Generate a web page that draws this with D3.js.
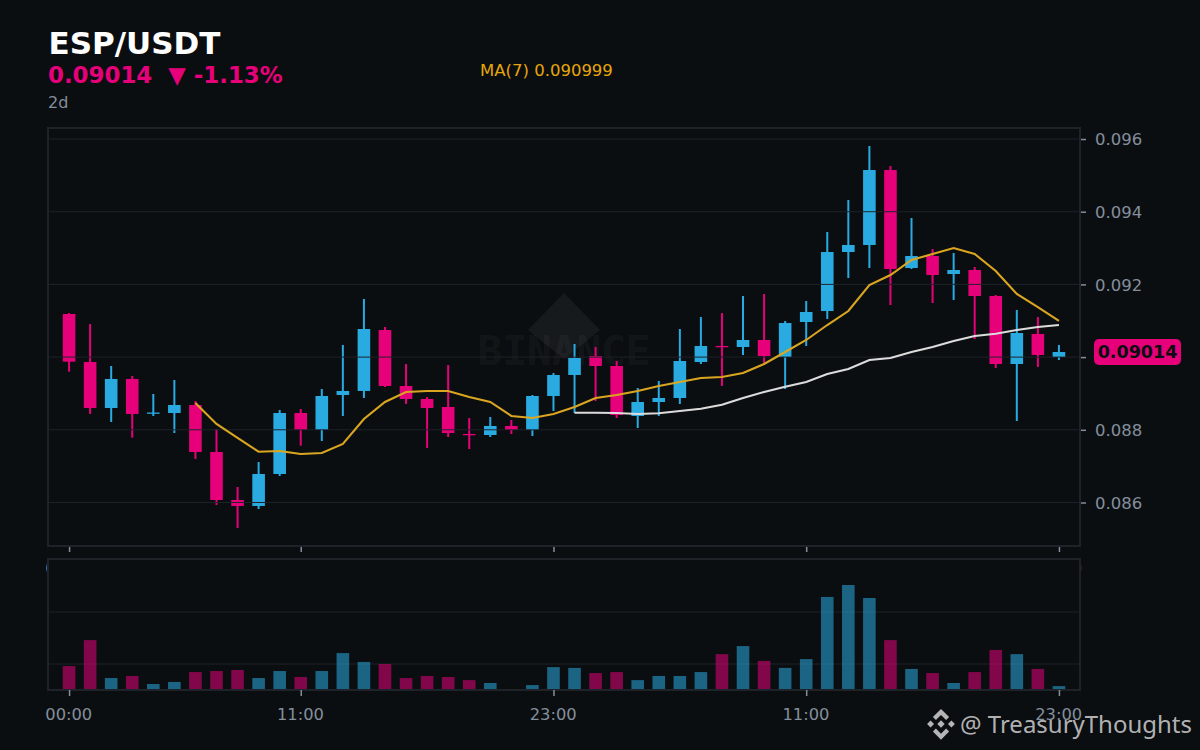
<!DOCTYPE html>
<html>
<head>
<meta charset="utf-8">
<script src="https://cdn.jsdelivr.net/npm/d3@7/dist/d3.min.js"></script>
<style>
html,body{margin:0;padding:0;background:#0B0E11;}
svg{display:block;font-family:"DejaVu Sans",sans-serif;}
</style>
</head>
<body>
<svg id="c" width="1200" height="750"></svg>
<script>
const title = "ESP/USDT";
const subtitle = "0.09014  \u25BC -1.13%";
const timeframe = "2d";
const maLabel = "MA(7) 0.090999";
const lastLabel = "0.09014";
const credit = "@ TreasuryThoughts";
const watermark = "BINANCE";

const opens  = [.091186,.089865,.088600,.089398,.088440,.088462,.088682,.087389,.086069,.085904,.086784,.088462,.087995,.088958,.089068,.090746,.089205,.088848,.088627,.087885,.087857,.088105,.087995,.088930,.089508,.090030,.089755,.088380,.088765,.088875,.089865,.090306,.090278,.090471,.090003,.090966,.091268,.092891,.093084,.095147,.092451,.092781,.092286,.092396,.091681,.089810,.090636,.090003];
const highs  = [.091213,.090911,.089755,.089480,.088985,.089370,.088792,.088022,.086427,.087114,.088545,.088572,.089123,.090333,.091599,.090828,.089810,.088903,.089783,.088325,.088352,.088270,.088958,.089563,.090361,.090278,.089893,.089150,.089343,.090773,.091103,.091213,.091681,.091736,.090993,.091543,.093442,.094322,.095808,.095257,.093827,.092974,.092864,.092479,.091709,.091296,.091103,.090333];
const lows   = [.089598,.088435,.088215,.087783,.088380,.087912,.087197,.085931,.085299,.085821,.086729,.087563,.087692,.088380,.088875,.089178,.088710,.087500,.087802,.087472,.087802,.087885,.087830,.088517,.088462,.088792,.088325,.088050,.088380,.088710,.089810,.089205,.090058,.089838,.089123,.090306,.091048,.092176,.092451,.091433,.092424,.091488,.091571,.090498,.089700,.088242,.089728,.089920];
const closes = [.089874,.088600,.089398,.088435,.088476,.088682,.087389,.086069,.085904,.086784,.088462,.087995,.088930,.089068,.090773,.089205,.088848,.088600,.087912,.087857,.088105,.087995,.088930,.089508,.089975,.089755,.088407,.088765,.088875,.089893,.090306,.090278,.090471,.090030,.090938,.091241,.092891,.093084,.095147,.092424,.092781,.092259,.092396,.091681,.089810,.090663,.090058,.090140];
const upFlags = [0,0,1,0,1,1,0,0,0,1,1,0,1,1,1,0,0,0,0,0,1,0,1,1,1,0,0,1,1,1,1,0,1,0,1,1,1,1,1,0,1,0,1,0,0,1,0,1];
const volumes = [.92,1.92,.46,.54,.23,.31,.69,.73,.77,.46,.73,.50,.73,1.42,1.08,1.00,.46,.54,.50,.38,.27,.04,.19,.88,.85,.65,.69,.38,.54,.54,.69,1.38,1.69,1.12,.85,1.19,3.58,4.04,3.54,1.92,.81,.65,.27,.69,1.54,1.38,.81,.15];
const ma7Start = 6;
const ma7 = [.088737,.088160,.087775,.087397,.087417,.087334,.087362,.087610,.088297,.088765,.089040,.089068,.089068,.088903,.088765,.088380,.088325,.088435,.088627,.088875,.088958,.089068,.089205,.089315,.089425,.089453,.089563,.089810,.090140,.090471,.090883,.091268,.091984,.092259,.092671,.092836,.093002,.092836,.092369,.091736,.091378,.090999];
const ma25Start = 24;
const ma25 = [.088471,.088471,.088462,.088435,.088455,.088517,.088580,.088691,.088875,.089040,.089186,.089315,.089535,.089673,.089920,.089975,.090140,.090278,.090443,.090581,.090644,.090746,.090828,.090883];
const priceTicks = [.086,.088,.090,.092,.094,.096];
const hiddenPriceLabel = .090;
const volumeTicks = [1,3];
const timeTickIdx = [0,11,23,35,47];
const timeTickLabels = ["00:00","11:00","23:00","11:00","23:00"];
const lastPrice = .09014;

const BG="#0B0E11", GRID="#1E2329", PINK="#E6007A", BLUE="#29ABE2", GOLD="#DAA520", WHITE="#DCDCDC", TICK="#848E9C";
const L=48,R=1080,T1=128,B1=546,T2=559,B2=690;

const svg=d3.select("#c");
svg.append("rect").attr("width",1200).attr("height",750).attr("fill",BG);

const x=d3.scaleLinear().domain([-1,48]).range([L,R]);
const y=d3.scaleLinear().domain([.084803,.096303]).range([B1,T1]);
const yv=d3.scaleLinear().domain([0,5.04]).range([B2,T2]);
const bw=12.6;

// watermark
const wm=svg.append("g");
wm.append("path").attr("d","M564 293L600 330L564 359L528 330Z").attr("fill","rgba(255,255,255,0.05)");
wm.append("text").text(watermark).attr("x",564).attr("y",365).attr("text-anchor","middle")
  .attr("font-family","'DejaVu Sans Mono',monospace").attr("font-weight","bold").attr("font-size",41)
  .attr("fill","rgba(255,255,255,0.05)");

// candles
const idx=d3.range(closes.length);
const col=i=>upFlags[i]?BLUE:PINK;
const cg=svg.append("g");
cg.selectAll(".w").data(idx).join("line").attr("x1",x).attr("x2",x)
  .attr("y1",i=>y(highs[i])).attr("y2",i=>y(lows[i])).attr("stroke",col).attr("stroke-width",2);
cg.selectAll(".b").data(idx).join("rect").attr("x",i=>x(i)-bw/2).attr("width",bw)
  .attr("y",i=>Math.min(y(opens[i]),y(closes[i])))
  .attr("height",i=>Math.max(1.3,Math.abs(y(opens[i])-y(closes[i])))).attr("fill",col);

// main grid (above candles)
svg.append("g").selectAll("line").data(priceTicks).join("line")
  .attr("x1",L).attr("x2",R).attr("y1",d=>y(d)).attr("y2",d=>y(d)).attr("stroke",GRID).attr("stroke-width",1);

// MA lines
const lineOf=start=>d3.line().x((d,i)=>x(i+start)).y(d=>y(d));
svg.append("path").attr("d",lineOf(ma25Start)(ma25)).attr("fill","none").attr("stroke",WHITE).attr("stroke-width",2.1);
svg.append("path").attr("d",lineOf(ma7Start)(ma7)).attr("fill","none").attr("stroke",GOLD).attr("stroke-width",2.1);

function styleAxis(g,size){
  g.select(".domain").remove();
  g.selectAll(".tick line").attr("stroke",TICK).attr("stroke-width",1.5);
  g.selectAll(".tick text").attr("fill",TICK).attr("font-size",size).attr("font-family","'DejaVu Sans',sans-serif");
}
// main axes
const axY=svg.append("g").attr("transform",`translate(${R},0)`)
  .call(d3.axisRight(y).tickValues(priceTicks)
    .tickFormat(d=>d===hiddenPriceLabel?"":d3.format(".3f")(d)).tickSize(6).tickPadding(9));
styleAxis(axY,16.5);
axY.selectAll(".tick text").attr("dy","0.36em");
const axX=svg.append("g").attr("transform",`translate(0,${B1})`)
  .call(d3.axisBottom(x).tickValues(timeTickIdx).tickFormat((d,i)=>timeTickLabels[i]).tickSize(6).tickPadding(10));
styleAxis(axX,16.3);
axX.selectAll(".tick text").attr("dx","-0.8");

// main frame
svg.append("rect").attr("x",L).attr("y",T1).attr("width",R-L).attr("height",B1-T1)
  .attr("fill","none").attr("stroke",GRID).attr("stroke-width",2);

// volume panel covers the upper tick labels
svg.append("rect").attr("x",L).attr("y",T2).attr("width",R-L).attr("height",B2-T2).attr("fill",BG);
svg.append("g").selectAll("line").data(volumeTicks).join("line")
  .attr("x1",L).attr("x2",R).attr("y1",d=>yv(d)).attr("y2",d=>yv(d)).attr("stroke",GRID).attr("stroke-width",1);
svg.append("g").selectAll("rect").data(idx).join("rect")
  .attr("x",i=>x(i)-bw/2).attr("width",bw).attr("y",i=>yv(volumes[i]))
  .attr("height",i=>B2-yv(volumes[i])).attr("fill",col).attr("fill-opacity",.55);
svg.append("rect").attr("x",L).attr("y",T2).attr("width",R-L).attr("height",B2-T2)
  .attr("fill","none").attr("stroke",GRID).attr("stroke-width",2);
const axX2=svg.append("g").attr("transform",`translate(0,${B2})`)
  .call(d3.axisBottom(x).tickValues(timeTickIdx).tickFormat((d,i)=>timeTickLabels[i]).tickSize(6).tickPadding(12));
styleAxis(axX2,16.3);
axX2.selectAll(".tick text").attr("dx","-0.8");

// header
svg.append("text").text(title).attr("x",48.5).attr("y",54).attr("font-size",31).attr("font-weight","bold").attr("fill","#fff");
svg.append("text").text(subtitle).attr("x",48).attr("y",83).attr("font-size",22.9).attr("font-weight","bold").attr("fill",PINK).style("white-space","pre");
svg.append("text").text(timeframe).attr("x",48).attr("y",108).attr("font-size",16).attr("fill",TICK);
svg.append("text").text(maLabel).attr("x",480).attr("y",76).attr("font-size",16.5).attr("fill","#E5A60C");

// last price tag
svg.append("rect").attr("x",1094).attr("y",y(lastPrice)-13).attr("width",87).attr("height",26).attr("rx",5).attr("fill",PINK);
svg.append("text").text(lastLabel).attr("x",1137.5).attr("y",y(lastPrice)+6).attr("text-anchor","middle")
  .attr("font-size",17.5).attr("font-weight","bold").attr("fill","#0B0E11");

// credit
const cr=svg.append("g").attr("fill","#C8C8C8").attr("fill-opacity",.9);
cr.append("path").attr("transform","translate(941,724) scale(1.16) translate(-941,-724)")
 .attr("d","M941 724m-3.2 0l3.2-3.2l3.2 3.2l-3.2 3.2Z M929 724l3-3l3 3l-3 3Z M947 724l3-3l3 3l-3 3Z "+
 "M941 711l7 7l-2.6 2.6l-4.4-4.4l-4.4 4.4l-2.6-2.6Z M941 737.5l7-7l-2.6-2.6l-4.4 4.4l-4.4-4.4l-2.6 2.6Z");
cr.append("text").text(credit).attr("x",960).attr("y",733).attr("font-size",24)
  .attr("font-family","'Noto Sans',sans-serif").attr("textLength",232).attr("lengthAdjust","spacingAndGlyphs");
</script>
</body>
</html>
